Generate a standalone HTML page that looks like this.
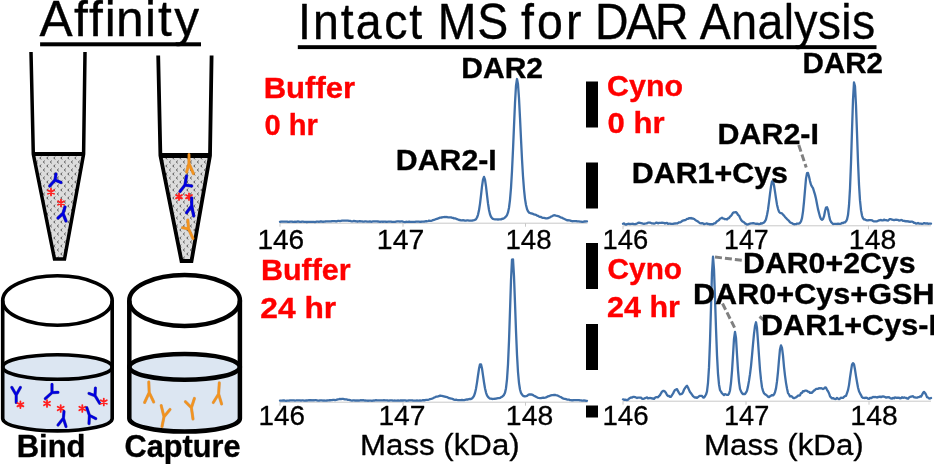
<!DOCTYPE html>
<html><head><meta charset="utf-8"><title>Intact MS for DAR Analysis</title>
<style>html,body{margin:0;padding:0;background:#fff}svg{display:block;filter:blur(0.35px)}</style></head>
<body>
<svg width="934" height="464" viewBox="0 0 934 464" font-family="'Liberation Sans', Arial, sans-serif">
<defs>
<pattern id="dots" width="7" height="8" patternUnits="userSpaceOnUse"><rect width="7" height="8" fill="#dcdcdc"/><path d="M2.8,0.7 L1.2,2 L2.8,3.3 M6.3,4.7 L4.7,6 L6.3,7.3" stroke="#505050" stroke-width="0.95" fill="none"/></pattern>
<g id="star" stroke="#ff2020" stroke-width="1.8" stroke-linecap="round"><path d="M0,-3.4V3.4M-3,-1.7L3,1.7M-3,1.7L3,-1.7"/></g>
</defs>
<rect width="934" height="464" fill="#fff"/>
<rect x="40.1" y="42.3" width="160.9" height="4" fill="#000"/>
<rect x="297.8" y="45.2" width="578.7" height="3.9" fill="#000"/>
<path d="M33.3,154.0 L83.6,154.0 L64.5,259 L54.5,259 Z" fill="url(#dots)"/>
<path d="M31,52 L33.3,154.0 L54.5,259 L64.5,259 L83.6,154.0 L85,52" fill="none" stroke="#000" stroke-width="3.5" stroke-linejoin="miter"/>
<path d="M33.3,154.0 L83.6,154.0" stroke="#000" stroke-width="4.0"/>
<path d="M160.4,155.5 L210,155.5 L191.5,261 L181.5,261 Z" fill="url(#dots)"/>
<path d="M158.2,55.5 L160.4,155.5 L181.5,261 L191.5,261 L210,155.5 L211.6,55.5" fill="none" stroke="#000" stroke-width="3.8" stroke-linejoin="miter"/>
<path d="M160.4,155.5 L210,155.5" stroke="#000" stroke-width="5.1"/>
<path d="M56,174 L55,180 L61,182.5 M55,180 L49.7,186" stroke="#00006a" stroke-width="3.4" fill="none" stroke-linecap="round" stroke-linejoin="round" opacity="0.55"/><path d="M56,174 L55,180 L61,182.5 M55,180 L49.7,186" stroke="#0000e0" stroke-width="2.6" fill="none" stroke-linecap="round" stroke-linejoin="round"/>
<use href="#star" x="51" y="192"/><use href="#star" x="61" y="203"/>
<path d="M58,218 L63,213.5 L66,221 M63,213.5 L65,207" stroke="#00006a" stroke-width="3.4" fill="none" stroke-linecap="round" stroke-linejoin="round" opacity="0.55"/><path d="M58,218 L63,213.5 L66,221 M63,213.5 L65,207" stroke="#0000e0" stroke-width="2.6" fill="none" stroke-linecap="round" stroke-linejoin="round"/>
<path d="M186.6,172 L189,163.5 L193.4,173.6 M189,163.5 L189,154.5" stroke="#c8741a" stroke-width="3.2" fill="none" stroke-linecap="round" stroke-linejoin="round" opacity="0.55"/><path d="M186.6,172 L189,163.5 L193.4,173.6 M189,163.5 L189,154.5" stroke="#f2931f" stroke-width="2.4000000000000004" fill="none" stroke-linecap="round" stroke-linejoin="round"/>
<path d="M186.5,176 L185,185 L191.7,186 M185,185 L180,191.5" stroke="#00006a" stroke-width="3.4" fill="none" stroke-linecap="round" stroke-linejoin="round" opacity="0.55"/><path d="M186.5,176 L185,185 L191.7,186 M185,185 L180,191.5" stroke="#0000e0" stroke-width="2.6" fill="none" stroke-linecap="round" stroke-linejoin="round"/>
<use href="#star" x="179" y="196.7"/><use href="#star" x="189" y="196.7"/>
<path d="M186.5,212.7 L191.7,205.7 L193.7,216 M191.7,205.7 L191.7,198" stroke="#00006a" stroke-width="3.4" fill="none" stroke-linecap="round" stroke-linejoin="round" opacity="0.55"/><path d="M186.5,212.7 L191.7,205.7 L193.7,216 M191.7,205.7 L191.7,198" stroke="#0000e0" stroke-width="2.6" fill="none" stroke-linecap="round" stroke-linejoin="round"/>
<path d="M187.8,220 L188.6,229 L182.6,227.7 M188.6,229 L193,238.5" stroke="#c8741a" stroke-width="3.2" fill="none" stroke-linecap="round" stroke-linejoin="round" opacity="0.55"/><path d="M187.8,220 L188.6,229 L182.6,227.7 M188.6,229 L193,238.5" stroke="#f2931f" stroke-width="2.4000000000000004" fill="none" stroke-linecap="round" stroke-linejoin="round"/>
<path d="M2.700000000000003,367 L2.700000000000003,418.4 A54.75,12.5 0 0 0 112.2,418.4 L112.2,367 A54.75,12.3 0 0 0 2.700000000000003,367 Z" fill="#dce6f2"/>
<ellipse cx="57.45" cy="367" rx="54.75" ry="12.3" fill="#dce6f2" stroke="#000" stroke-width="3.6"/>
<ellipse cx="57.45" cy="300.5" rx="54.75" ry="24.7" fill="none" stroke="#000" stroke-width="3.6"/>
<path d="M2.700000000000003,300.5 L2.700000000000003,418.4 A54.75,12.5 0 0 0 112.2,418.4 L112.2,300.5" fill="none" stroke="#000" stroke-width="3.6"/>
<path d="M129.3,366.9 L129.3,418.6 A55.3,13 0 0 0 239.89999999999998,418.6 L239.89999999999998,366.9 A55.3,12.8 0 0 0 129.3,366.9 Z" fill="#dce6f2"/>
<ellipse cx="184.6" cy="366.9" rx="55.3" ry="12.8" fill="#dce6f2" stroke="#000" stroke-width="4.5"/>
<ellipse cx="184.6" cy="300.5" rx="55.3" ry="25.4" fill="none" stroke="#000" stroke-width="4.5"/>
<path d="M129.3,300.5 L129.3,418.6 A55.3,13 0 0 0 239.89999999999998,418.6 L239.89999999999998,300.5" fill="none" stroke="#000" stroke-width="4.5"/>
<path d="M11.8,387.4 L16.2,395 L20.4,387.4 M16.2,395 L16.2,402.5" stroke="#00006a" stroke-width="3.2" fill="none" stroke-linecap="round" stroke-linejoin="round" opacity="0.55"/><path d="M11.8,387.4 L16.2,395 L20.4,387.4 M16.2,395 L16.2,402.5" stroke="#0000e0" stroke-width="2.4000000000000004" fill="none" stroke-linecap="round" stroke-linejoin="round"/>
<use href="#star" x="20.4" y="404.7"/>
<path d="M52,384.3 L52,392.6 L58,392.3 M52,392.6 L45.3,398.7" stroke="#00006a" stroke-width="3.2" fill="none" stroke-linecap="round" stroke-linejoin="round" opacity="0.55"/><path d="M52,384.3 L52,392.6 L58,392.3 M52,392.6 L45.3,398.7" stroke="#0000e0" stroke-width="2.4000000000000004" fill="none" stroke-linecap="round" stroke-linejoin="round"/>
<use href="#star" x="47" y="403.5"/>
<use href="#star" x="60.7" y="408.5"/>
<path d="M58,425 L63.4,418.3 L66,426.6 M63.4,418.3 L64,411.5" stroke="#00006a" stroke-width="3.2" fill="none" stroke-linecap="round" stroke-linejoin="round" opacity="0.55"/><path d="M58,425 L63.4,418.3 L66,426.6 M63.4,418.3 L64,411.5" stroke="#0000e0" stroke-width="2.4000000000000004" fill="none" stroke-linecap="round" stroke-linejoin="round"/>
<use href="#star" x="82.3" y="408.5"/>
<path d="M89,423.6 L89.4,415.3 L95.8,418.6 M89.4,415.3 L86.8,407.7" stroke="#00006a" stroke-width="3.2" fill="none" stroke-linecap="round" stroke-linejoin="round" opacity="0.55"/><path d="M89,423.6 L89.4,415.3 L95.8,418.6 M89.4,415.3 L86.8,407.7" stroke="#0000e0" stroke-width="2.4000000000000004" fill="none" stroke-linecap="round" stroke-linejoin="round"/>
<path d="M89,393.4 L95,395.7 L95.4,388 M95,395.7 L99.6,403.2" stroke="#00006a" stroke-width="3.2" fill="none" stroke-linecap="round" stroke-linejoin="round" opacity="0.55"/><path d="M89,393.4 L95,395.7 L95.4,388 M95,395.7 L99.6,403.2" stroke="#0000e0" stroke-width="2.4000000000000004" fill="none" stroke-linecap="round" stroke-linejoin="round"/>
<use href="#star" x="103.8" y="402"/>
<path d="M144.6,402.5 L149.2,392.6 L153.7,402 M149.2,392.6 L148.8,382" stroke="#c8741a" stroke-width="3.1" fill="none" stroke-linecap="round" stroke-linejoin="round" opacity="0.55"/><path d="M144.6,402.5 L149.2,392.6 L153.7,402 M149.2,392.6 L148.8,382" stroke="#f2931f" stroke-width="2.3000000000000003" fill="none" stroke-linecap="round" stroke-linejoin="round"/>
<path d="M161.2,405.5 L164,416.8 L170,409.5 M164,416.8 L162,426.6" stroke="#c8741a" stroke-width="3.1" fill="none" stroke-linecap="round" stroke-linejoin="round" opacity="0.55"/><path d="M161.2,405.5 L164,416.8 L170,409.5 M164,416.8 L162,426.6" stroke="#f2931f" stroke-width="2.3000000000000003" fill="none" stroke-linecap="round" stroke-linejoin="round"/>
<path d="M185.4,401.7 L191.4,407.7 L194.4,398.4 M191.4,407.7 L193,419" stroke="#c8741a" stroke-width="3.1" fill="none" stroke-linecap="round" stroke-linejoin="round" opacity="0.55"/><path d="M185.4,401.7 L191.4,407.7 L194.4,398.4 M191.4,407.7 L193,419" stroke="#f2931f" stroke-width="2.3000000000000003" fill="none" stroke-linecap="round" stroke-linejoin="round"/>
<path d="M213.3,402.5 L218.6,394 L221.6,404 M218.6,394 L219.3,382.8" stroke="#c8741a" stroke-width="3.1" fill="none" stroke-linecap="round" stroke-linejoin="round" opacity="0.55"/><path d="M213.3,402.5 L218.6,394 L221.6,404 M218.6,394 L219.3,382.8" stroke="#f2931f" stroke-width="2.3000000000000003" fill="none" stroke-linecap="round" stroke-linejoin="round"/>
<rect x="586" y="81.5" width="12" height="46.0" fill="#000"/>
<rect x="586" y="162.5" width="12" height="46.0" fill="#000"/>
<rect x="586" y="243" width="12" height="46" fill="#000"/>
<rect x="586" y="324" width="12" height="46" fill="#000"/>
<rect x="586" y="405.5" width="12" height="12.0" fill="#000"/>
<path d="M280,223.2 L587.5,223.2 M280,223.2 L280,226.7 M403,223.2 L403,226.7 M525.5,223.2 L525.5,226.7" stroke="#c8c8c8" stroke-width="1" fill="none"/>
<path d="M623,225.8 L931,225.8 M623,225.8 L623,229.3 M746,225.8 L746,229.3 M868.5,225.8 L868.5,229.3" stroke="#c8c8c8" stroke-width="1" fill="none"/>
<path d="M280,402.2 L587.5,402.2 M280,402.2 L280,405.7 M403,402.2 L403,405.7 M525.5,402.2 L525.5,405.7" stroke="#c8c8c8" stroke-width="1" fill="none"/>
<path d="M623,401.2 L931,401.2 M623,401.2 L623,404.7 M746,401.2 L746,404.7 M869,401.2 L869,404.7" stroke="#c8c8c8" stroke-width="1" fill="none"/>
<path d="M280.0,221.86 L281.0,221.63 L282.0,221.52 L283.0,221.71 L284.0,221.70 L285.0,221.72 L286.0,221.63 L287.0,221.52 L288.0,221.78 L289.0,221.97 L290.0,221.69 L291.0,221.72 L292.0,221.58 L293.0,221.86 L294.0,221.82 L295.0,221.66 L296.0,221.80 L297.0,221.54 L298.0,221.40 L299.0,221.74 L300.0,221.95 L301.0,221.82 L302.0,221.56 L303.0,221.66 L304.0,221.81 L305.0,221.80 L306.0,221.98 L307.0,221.99 L308.0,221.90 L309.0,221.81 L310.0,221.89 L311.0,221.94 L312.0,221.97 L313.0,221.87 L314.0,221.90 L315.0,222.04 L316.0,221.73 L317.0,221.68 L318.0,221.61 L319.0,221.79 L320.0,221.50 L321.0,221.39 L322.0,221.68 L323.0,221.75 L324.0,221.60 L325.0,221.50 L326.0,221.33 L327.0,221.46 L328.0,221.33 L329.0,221.32 L330.0,221.46 L331.0,221.40 L332.0,221.19 L333.0,221.05 L334.0,221.11 L335.0,221.07 L336.0,221.28 L337.0,221.27 L338.0,220.97 L339.0,220.95 L340.0,221.03 L341.0,220.87 L342.0,220.69 L343.0,220.59 L344.0,220.67 L345.0,220.70 L346.0,220.69 L347.0,220.58 L348.0,220.65 L349.0,220.79 L350.0,220.85 L351.0,221.15 L352.0,221.35 L353.0,221.18 L354.0,220.98 L355.0,221.07 L356.0,221.25 L357.0,221.48 L358.0,221.48 L359.0,221.27 L360.0,221.26 L361.0,221.37 L362.0,221.29 L363.0,221.55 L364.0,221.58 L365.0,221.39 L366.0,221.46 L367.0,221.56 L368.0,221.71 L369.0,221.67 L370.0,221.44 L371.0,221.77 L372.0,221.59 L373.0,221.46 L374.0,221.36 L375.0,221.36 L376.0,221.33 L377.0,221.45 L378.0,221.51 L379.0,221.60 L380.0,221.84 L381.0,221.59 L382.0,221.58 L383.0,221.75 L384.0,221.71 L385.0,221.70 L386.0,221.75 L387.0,221.78 L388.0,221.71 L389.0,221.63 L390.0,221.58 L391.0,221.63 L392.0,221.86 L393.0,221.91 L394.0,221.96 L395.0,221.79 L396.0,221.56 L397.0,221.45 L398.0,221.38 L399.0,221.33 L400.0,221.57 L401.0,221.43 L402.0,221.43 L403.0,221.71 L404.0,221.91 L405.0,222.03 L406.0,221.75 L407.0,221.82 L408.0,221.93 L409.0,221.75 L410.0,221.77 L411.0,221.92 L412.0,221.96 L413.0,221.81 L414.0,221.89 L415.0,221.88 L416.0,221.66 L417.0,221.65 L418.0,221.70 L419.0,221.65 L420.0,221.82 L421.0,221.73 L422.0,221.65 L423.0,221.68 L424.0,221.71 L425.0,221.31 L426.0,221.21 L427.0,221.25 L428.0,221.01 L429.0,220.70 L430.0,220.80 L431.0,220.78 L432.0,220.59 L433.0,220.10 L434.0,219.95 L435.0,219.47 L436.0,219.07 L437.0,218.76 L438.0,218.62 L439.0,218.05 L440.0,217.69 L441.0,217.52 L442.0,217.49 L443.0,217.22 L444.0,217.14 L445.0,217.01 L446.0,217.07 L447.0,217.00 L448.0,217.29 L449.0,217.43 L450.0,217.29 L451.0,217.36 L452.0,217.79 L453.0,217.90 L454.0,218.35 L455.0,218.44 L456.0,218.70 L457.0,219.12 L458.0,219.55 L459.0,220.01 L460.0,219.94 L461.0,220.37 L462.0,220.30 L463.0,220.22 L464.0,220.40 L465.0,220.71 L466.0,220.57 L467.0,220.43 L468.0,220.47 L469.0,220.56 L470.0,220.64 L471.0,220.66 L472.0,220.68 L473.0,220.37 L474.0,220.15 L475.0,219.86 L476.0,219.18 L477.0,217.48 L478.0,214.83 L479.0,210.31 L480.0,203.84 L481.0,195.34 L482.0,186.40 L483.0,179.60 L484.0,176.88 L485.0,179.65 L486.0,186.41 L487.0,195.05 L488.0,203.41 L489.0,210.01 L490.0,214.27 L491.0,216.75 L492.0,218.04 L493.0,218.95 L494.0,219.15 L495.0,219.32 L496.0,219.47 L497.0,219.29 L498.0,219.50 L499.0,219.33 L500.0,219.46 L501.0,219.39 L502.0,218.88 L503.0,218.74 L504.0,218.16 L505.0,217.55 L506.0,216.48 L507.0,215.05 L508.0,212.41 L509.0,207.76 L510.0,199.77 L511.0,187.88 L512.0,171.03 L513.0,149.78 L514.0,126.17 L515.0,102.93 L516.0,85.59 L517.0,79.03 L518.0,84.31 L519.0,98.24 L520.0,117.77 L521.0,139.02 L522.0,159.29 L523.0,176.27 L524.0,189.32 L525.0,198.83 L526.0,205.00 L527.0,208.97 L528.0,211.34 L529.0,212.58 L530.0,212.97 L531.0,213.37 L532.0,213.51 L533.0,213.93 L534.0,214.40 L535.0,214.58 L536.0,214.82 L537.0,215.52 L538.0,215.79 L539.0,216.40 L540.0,216.91 L541.0,217.01 L542.0,217.60 L543.0,217.95 L544.0,217.87 L545.0,218.11 L546.0,218.35 L547.0,218.37 L548.0,218.19 L549.0,217.65 L550.0,217.41 L551.0,216.66 L552.0,216.28 L553.0,215.64 L554.0,215.25 L555.0,215.37 L556.0,215.60 L557.0,215.77 L558.0,216.21 L559.0,216.41 L560.0,217.02 L561.0,217.62 L562.0,217.73 L563.0,218.33 L564.0,218.73 L565.0,219.21 L566.0,219.70 L567.0,220.24 L568.0,220.26 L569.0,220.32 L570.0,220.41 L571.0,220.93 L572.0,221.22 L573.0,221.23 L574.0,221.08 L575.0,221.21 L576.0,221.22 L577.0,221.25 L578.0,221.47 L579.0,221.46 L580.0,221.58 L581.0,221.68 L582.0,221.82 L583.0,221.81 L584.0,221.47 L585.0,221.52 L586.0,221.46 L587.0,221.43" fill="none" stroke="#3f6fa8" stroke-width="2.3" stroke-linejoin="round" stroke-linecap="round"/>
<path d="M623.0,223.74 L624.0,223.43 L625.0,224.24 L626.0,224.68 L627.0,224.09 L628.0,223.84 L629.0,223.74 L630.0,224.07 L631.0,223.91 L632.0,223.80 L633.0,223.73 L634.0,224.13 L635.0,224.03 L636.0,223.98 L637.0,223.55 L638.0,222.95 L639.0,222.60 L640.0,222.81 L641.0,223.01 L642.0,223.29 L643.0,223.69 L644.0,223.91 L645.0,223.53 L646.0,223.44 L647.0,223.31 L648.0,222.65 L649.0,222.67 L650.0,222.64 L651.0,223.00 L652.0,223.47 L653.0,223.44 L654.0,223.66 L655.0,223.41 L656.0,222.74 L657.0,222.74 L658.0,223.33 L659.0,222.92 L660.0,222.82 L661.0,222.87 L662.0,222.74 L663.0,222.86 L664.0,222.93 L665.0,223.48 L666.0,223.14 L667.0,222.97 L668.0,223.78 L669.0,223.62 L670.0,223.57 L671.0,223.83 L672.0,223.90 L673.0,223.97 L674.0,223.49 L675.0,223.63 L676.0,223.27 L677.0,223.49 L678.0,222.90 L679.0,222.37 L680.0,222.35 L681.0,221.99 L682.0,221.13 L683.0,220.58 L684.0,220.26 L685.0,220.12 L686.0,219.72 L687.0,218.90 L688.0,218.93 L689.0,218.09 L690.0,218.38 L691.0,217.96 L692.0,218.57 L693.0,218.45 L694.0,218.92 L695.0,219.70 L696.0,220.41 L697.0,220.93 L698.0,221.52 L699.0,222.36 L700.0,223.12 L701.0,223.34 L702.0,223.08 L703.0,223.33 L704.0,224.13 L705.0,223.79 L706.0,223.71 L707.0,223.46 L708.0,224.11 L709.0,223.87 L710.0,224.47 L711.0,224.12 L712.0,224.24 L713.0,224.23 L714.0,223.29 L715.0,223.30 L716.0,222.49 L717.0,221.21 L718.0,220.71 L719.0,220.08 L720.0,218.71 L721.0,218.30 L722.0,217.78 L723.0,218.43 L724.0,218.68 L725.0,219.23 L726.0,219.06 L727.0,219.47 L728.0,218.38 L729.0,218.21 L730.0,216.66 L731.0,215.85 L732.0,214.53 L733.0,212.75 L734.0,212.33 L735.0,212.25 L736.0,212.12 L737.0,213.07 L738.0,214.81 L739.0,215.59 L740.0,217.72 L741.0,219.71 L742.0,221.01 L743.0,221.79 L744.0,222.31 L745.0,223.42 L746.0,223.87 L747.0,224.50 L748.0,224.41 L749.0,223.98 L750.0,223.74 L751.0,223.40 L752.0,223.35 L753.0,223.18 L754.0,223.24 L755.0,223.52 L756.0,223.94 L757.0,223.68 L758.0,223.88 L759.0,224.21 L760.0,223.97 L761.0,223.27 L762.0,223.58 L763.0,223.03 L764.0,222.50 L765.0,221.21 L766.0,219.37 L767.0,214.96 L768.0,209.72 L769.0,202.14 L770.0,193.83 L771.0,186.58 L772.0,181.39 L773.0,181.34 L774.0,185.25 L775.0,191.57 L776.0,198.42 L777.0,204.68 L778.0,208.83 L779.0,211.70 L780.0,212.74 L781.0,213.22 L782.0,213.43 L783.0,214.64 L784.0,215.58 L785.0,216.94 L786.0,217.98 L787.0,219.11 L788.0,220.01 L789.0,220.95 L790.0,222.19 L791.0,222.83 L792.0,223.13 L793.0,223.88 L794.0,224.27 L795.0,224.04 L796.0,224.19 L797.0,223.53 L798.0,223.57 L799.0,223.53 L800.0,222.93 L801.0,221.37 L802.0,218.06 L803.0,211.56 L804.0,201.88 L805.0,190.08 L806.0,178.67 L807.0,173.11 L808.0,173.00 L809.0,176.56 L810.0,181.11 L811.0,184.69 L812.0,186.62 L813.0,188.16 L814.0,191.28 L815.0,194.61 L816.0,198.74 L817.0,203.91 L818.0,209.13 L819.0,212.97 L820.0,216.70 L821.0,219.12 L822.0,219.74 L823.0,219.05 L824.0,216.45 L825.0,211.29 L826.0,207.58 L827.0,207.26 L828.0,209.81 L829.0,215.20 L830.0,219.72 L831.0,221.89 L832.0,222.94 L833.0,223.98 L834.0,223.95 L835.0,223.91 L836.0,223.78 L837.0,223.98 L838.0,223.64 L839.0,223.97 L840.0,223.88 L841.0,223.66 L842.0,222.81 L843.0,223.16 L844.0,222.45 L845.0,222.38 L846.0,221.33 L847.0,219.51 L848.0,215.10 L849.0,205.48 L850.0,188.65 L851.0,162.88 L852.0,130.49 L853.0,99.94 L854.0,82.43 L855.0,86.38 L856.0,105.47 L857.0,133.04 L858.0,161.71 L859.0,184.51 L860.0,200.41 L861.0,210.15 L862.0,215.58 L863.0,218.32 L864.0,219.43 L865.0,219.52 L866.0,220.13 L867.0,220.26 L868.0,220.47 L869.0,220.16 L870.0,220.22 L871.0,220.17 L872.0,220.27 L873.0,220.93 L874.0,221.37 L875.0,221.30 L876.0,221.46 L877.0,221.30 L878.0,220.87 L879.0,220.28 L880.0,220.24 L881.0,219.90 L882.0,220.45 L883.0,220.43 L884.0,219.66 L885.0,220.12 L886.0,220.05 L887.0,220.38 L888.0,220.53 L889.0,219.71 L890.0,219.10 L891.0,219.13 L892.0,219.73 L893.0,219.93 L894.0,220.14 L895.0,219.82 L896.0,219.65 L897.0,219.87 L898.0,219.96 L899.0,220.53 L900.0,220.46 L901.0,220.02 L902.0,220.05 L903.0,220.88 L904.0,220.98 L905.0,220.89 L906.0,221.43 L907.0,221.11 L908.0,221.48 L909.0,221.50 L910.0,221.92 L911.0,221.58 L912.0,221.68 L913.0,222.03 L914.0,222.78 L915.0,222.96 L916.0,223.57 L917.0,223.36 L918.0,222.95 L919.0,223.53 L920.0,223.54 L921.0,223.62 L922.0,223.78 L923.0,223.56 L924.0,223.20 L925.0,223.26 L926.0,223.58 L927.0,223.24 L928.0,223.76 L929.0,223.61 L930.0,223.64 L931.0,223.54" fill="none" stroke="#3f6fa8" stroke-width="2.3" stroke-linejoin="round" stroke-linecap="round"/>
<path d="M280.0,400.62 L281.0,400.54 L282.0,400.58 L283.0,400.50 L284.0,400.43 L285.0,400.66 L286.0,400.83 L287.0,400.53 L288.0,400.63 L289.0,400.70 L290.0,400.38 L291.0,400.44 L292.0,400.30 L293.0,400.38 L294.0,400.36 L295.0,400.58 L296.0,400.48 L297.0,400.31 L298.0,400.37 L299.0,400.30 L300.0,400.29 L301.0,400.58 L302.0,400.42 L303.0,400.40 L304.0,400.53 L305.0,400.74 L306.0,400.46 L307.0,400.49 L308.0,400.38 L309.0,400.24 L310.0,400.24 L311.0,400.13 L312.0,400.33 L313.0,400.25 L314.0,400.37 L315.0,400.21 L316.0,400.14 L317.0,400.47 L318.0,400.65 L319.0,400.72 L320.0,400.40 L321.0,400.47 L322.0,400.41 L323.0,400.54 L324.0,400.51 L325.0,400.56 L326.0,400.60 L327.0,400.51 L328.0,400.46 L329.0,400.27 L330.0,400.26 L331.0,400.13 L332.0,400.06 L333.0,399.93 L334.0,399.97 L335.0,400.17 L336.0,399.88 L337.0,399.55 L338.0,399.28 L339.0,399.18 L340.0,398.98 L341.0,399.06 L342.0,398.82 L343.0,398.85 L344.0,399.10 L345.0,399.47 L346.0,399.42 L347.0,399.43 L348.0,399.94 L349.0,399.96 L350.0,400.19 L351.0,400.47 L352.0,400.58 L353.0,400.41 L354.0,400.27 L355.0,400.57 L356.0,400.48 L357.0,400.70 L358.0,400.50 L359.0,400.57 L360.0,400.35 L361.0,400.17 L362.0,400.29 L363.0,400.12 L364.0,400.35 L365.0,400.61 L366.0,400.50 L367.0,400.72 L368.0,400.76 L369.0,400.69 L370.0,400.55 L371.0,400.68 L372.0,400.82 L373.0,400.50 L374.0,400.58 L375.0,400.31 L376.0,400.19 L377.0,400.36 L378.0,400.42 L379.0,400.43 L380.0,400.37 L381.0,400.36 L382.0,400.38 L383.0,400.35 L384.0,400.19 L385.0,400.29 L386.0,400.39 L387.0,400.32 L388.0,400.50 L389.0,400.58 L390.0,400.30 L391.0,400.35 L392.0,400.37 L393.0,400.64 L394.0,400.61 L395.0,400.51 L396.0,400.72 L397.0,400.56 L398.0,400.45 L399.0,400.66 L400.0,400.52 L401.0,400.51 L402.0,400.40 L403.0,400.49 L404.0,400.37 L405.0,400.29 L406.0,400.58 L407.0,400.74 L408.0,400.53 L409.0,400.27 L410.0,400.46 L411.0,400.47 L412.0,400.41 L413.0,400.51 L414.0,400.54 L415.0,400.58 L416.0,400.58 L417.0,400.46 L418.0,400.53 L419.0,400.53 L420.0,400.32 L421.0,400.54 L422.0,400.39 L423.0,400.19 L424.0,400.23 L425.0,400.25 L426.0,399.91 L427.0,399.90 L428.0,399.81 L429.0,399.52 L430.0,399.09 L431.0,398.96 L432.0,398.62 L433.0,398.25 L434.0,397.62 L435.0,397.27 L436.0,396.72 L437.0,396.61 L438.0,396.38 L439.0,396.04 L440.0,395.72 L441.0,395.76 L442.0,395.97 L443.0,396.25 L444.0,396.35 L445.0,396.73 L446.0,396.82 L447.0,397.03 L448.0,397.62 L449.0,398.09 L450.0,398.25 L451.0,398.54 L452.0,398.74 L453.0,399.16 L454.0,399.58 L455.0,399.80 L456.0,399.72 L457.0,399.94 L458.0,400.05 L459.0,400.09 L460.0,400.10 L461.0,400.11 L462.0,399.86 L463.0,400.05 L464.0,400.22 L465.0,399.85 L466.0,399.62 L467.0,399.39 L468.0,399.48 L469.0,399.21 L470.0,398.96 L471.0,398.99 L472.0,398.43 L473.0,397.44 L474.0,395.79 L475.0,392.99 L476.0,388.66 L477.0,382.60 L478.0,375.52 L479.0,368.86 L480.0,364.36 L481.0,364.38 L482.0,368.44 L483.0,375.42 L484.0,382.27 L485.0,388.29 L486.0,392.58 L487.0,395.33 L488.0,396.90 L489.0,397.86 L490.0,398.61 L491.0,398.65 L492.0,398.92 L493.0,398.99 L494.0,398.82 L495.0,398.74 L496.0,398.69 L497.0,398.32 L498.0,398.16 L499.0,398.07 L500.0,397.90 L501.0,397.29 L502.0,396.82 L503.0,395.95 L504.0,394.86 L505.0,392.74 L506.0,388.17 L507.0,379.33 L508.0,364.37 L509.0,341.03 L510.0,311.03 L511.0,280.32 L512.0,259.52 L513.0,259.32 L514.0,276.41 L515.0,302.91 L516.0,331.03 L517.0,354.71 L518.0,372.01 L519.0,383.03 L520.0,389.50 L521.0,392.96 L522.0,394.60 L523.0,395.75 L524.0,396.26 L525.0,396.35 L526.0,396.18 L527.0,395.87 L528.0,395.04 L529.0,394.47 L530.0,394.48 L531.0,394.40 L532.0,394.66 L533.0,395.11 L534.0,395.68 L535.0,396.16 L536.0,396.70 L537.0,397.27 L538.0,397.77 L539.0,398.00 L540.0,398.21 L541.0,398.07 L542.0,397.83 L543.0,397.76 L544.0,397.77 L545.0,397.62 L546.0,397.32 L547.0,396.89 L548.0,396.41 L549.0,396.17 L550.0,395.69 L551.0,395.38 L552.0,395.21 L553.0,395.10 L554.0,395.00 L555.0,394.92 L556.0,395.13 L557.0,395.30 L558.0,395.72 L559.0,396.30 L560.0,396.74 L561.0,397.15 L562.0,397.90 L563.0,398.36 L564.0,398.79 L565.0,398.94 L566.0,399.10 L567.0,399.53 L568.0,399.59 L569.0,399.71 L570.0,400.05 L571.0,400.18 L572.0,400.42 L573.0,400.25 L574.0,400.22 L575.0,400.09 L576.0,400.06 L577.0,400.11 L578.0,400.10 L579.0,400.18 L580.0,400.46 L581.0,400.39 L582.0,400.63 L583.0,400.70 L584.0,400.45 L585.0,400.65 L586.0,400.75 L587.0,400.80" fill="none" stroke="#3f6fa8" stroke-width="2.3" stroke-linejoin="round" stroke-linecap="round"/>
<path d="M623.0,399.33 L624.0,399.80 L625.0,399.60 L626.0,399.87 L627.0,400.16 L628.0,399.77 L629.0,398.63 L630.0,397.99 L631.0,397.42 L632.0,397.64 L633.0,396.98 L634.0,396.86 L635.0,397.05 L636.0,397.57 L637.0,398.08 L638.0,397.54 L639.0,397.53 L640.0,397.59 L641.0,397.61 L642.0,398.55 L643.0,398.90 L644.0,398.57 L645.0,398.19 L646.0,397.74 L647.0,397.41 L648.0,398.46 L649.0,398.24 L650.0,397.97 L651.0,398.05 L652.0,398.60 L653.0,398.42 L654.0,398.89 L655.0,397.78 L656.0,397.17 L657.0,397.18 L658.0,397.35 L659.0,396.04 L660.0,395.13 L661.0,393.31 L662.0,391.61 L663.0,390.91 L664.0,391.00 L665.0,391.54 L666.0,393.00 L667.0,394.91 L668.0,396.09 L669.0,395.93 L670.0,396.79 L671.0,396.78 L672.0,395.08 L673.0,393.67 L674.0,391.54 L675.0,389.96 L676.0,389.52 L677.0,389.10 L678.0,391.19 L679.0,392.85 L680.0,394.36 L681.0,394.15 L682.0,393.75 L683.0,392.29 L684.0,389.74 L685.0,388.18 L686.0,386.72 L687.0,385.80 L688.0,387.56 L689.0,389.88 L690.0,392.08 L691.0,393.29 L692.0,394.63 L693.0,396.16 L694.0,396.90 L695.0,397.51 L696.0,397.36 L697.0,397.87 L698.0,397.10 L699.0,396.32 L700.0,395.80 L701.0,395.95 L702.0,395.81 L703.0,397.30 L704.0,397.66 L705.0,396.29 L706.0,394.55 L707.0,391.34 L708.0,382.80 L709.0,367.40 L710.0,341.17 L711.0,306.71 L712.0,272.54 L713.0,256.70 L714.0,269.26 L715.0,297.83 L716.0,328.53 L717.0,355.10 L718.0,373.67 L719.0,384.47 L720.0,389.96 L721.0,391.73 L722.0,393.25 L723.0,394.22 L724.0,395.12 L725.0,394.23 L726.0,394.51 L727.0,394.84 L728.0,394.84 L729.0,393.78 L730.0,390.47 L731.0,382.74 L732.0,371.18 L733.0,355.33 L734.0,338.93 L735.0,331.92 L736.0,337.86 L737.0,354.46 L738.0,370.44 L739.0,381.80 L740.0,388.94 L741.0,391.44 L742.0,393.10 L743.0,394.06 L744.0,394.00 L745.0,394.06 L746.0,392.63 L747.0,390.68 L748.0,386.38 L749.0,380.89 L750.0,374.15 L751.0,366.04 L752.0,355.56 L753.0,344.30 L754.0,333.83 L755.0,326.13 L756.0,322.26 L757.0,328.05 L758.0,341.45 L759.0,355.79 L760.0,369.75 L761.0,379.70 L762.0,387.25 L763.0,390.90 L764.0,393.23 L765.0,394.24 L766.0,394.84 L767.0,395.58 L768.0,396.66 L769.0,397.10 L770.0,396.28 L771.0,395.66 L772.0,395.10 L773.0,395.41 L774.0,394.41 L775.0,392.17 L776.0,388.38 L777.0,381.43 L778.0,371.85 L779.0,359.93 L780.0,349.23 L781.0,345.41 L782.0,347.96 L783.0,355.61 L784.0,366.78 L785.0,375.57 L786.0,382.84 L787.0,388.49 L788.0,393.08 L789.0,394.42 L790.0,396.37 L791.0,396.15 L792.0,396.50 L793.0,397.68 L794.0,398.21 L795.0,397.72 L796.0,397.39 L797.0,396.65 L798.0,395.54 L799.0,395.51 L800.0,395.26 L801.0,393.10 L802.0,392.84 L803.0,391.11 L804.0,391.34 L805.0,390.64 L806.0,390.64 L807.0,390.84 L808.0,391.72 L809.0,391.83 L810.0,392.93 L811.0,392.67 L812.0,392.79 L813.0,391.58 L814.0,390.57 L815.0,389.92 L816.0,388.96 L817.0,388.87 L818.0,388.78 L819.0,388.10 L820.0,388.30 L821.0,388.17 L822.0,388.51 L823.0,389.08 L824.0,388.54 L825.0,387.40 L826.0,387.66 L827.0,389.85 L828.0,391.26 L829.0,393.25 L830.0,396.22 L831.0,397.42 L832.0,398.32 L833.0,398.09 L834.0,398.63 L835.0,399.02 L836.0,398.82 L837.0,397.91 L838.0,398.73 L839.0,399.17 L840.0,398.58 L841.0,397.75 L842.0,397.78 L843.0,397.80 L844.0,396.92 L845.0,396.09 L846.0,395.90 L847.0,393.03 L848.0,390.12 L849.0,385.10 L850.0,377.72 L851.0,370.87 L852.0,364.66 L853.0,363.13 L854.0,364.20 L855.0,369.55 L856.0,376.09 L857.0,381.99 L858.0,387.44 L859.0,391.28 L860.0,393.38 L861.0,395.05 L862.0,397.15 L863.0,397.88 L864.0,397.91 L865.0,398.01 L866.0,397.69 L867.0,397.86 L868.0,398.62 L869.0,398.78 L870.0,397.90 L871.0,398.14 L872.0,397.61 L873.0,396.91 L874.0,397.03 L875.0,397.00 L876.0,397.06 L877.0,397.54 L878.0,396.85 L879.0,397.12 L880.0,396.55 L881.0,397.17 L882.0,396.63 L883.0,396.43 L884.0,396.59 L885.0,396.97 L886.0,397.69 L887.0,397.13 L888.0,397.47 L889.0,397.21 L890.0,397.93 L891.0,398.46 L892.0,398.71 L893.0,397.81 L894.0,398.30 L895.0,397.44 L896.0,397.78 L897.0,397.66 L898.0,397.94 L899.0,397.66 L900.0,398.32 L901.0,398.20 L902.0,397.25 L903.0,397.86 L904.0,397.45 L905.0,397.70 L906.0,397.88 L907.0,398.42 L908.0,398.75 L909.0,397.46 L910.0,396.90 L911.0,396.63 L912.0,396.49 L913.0,396.21 L914.0,397.35 L915.0,397.41 L916.0,397.63 L917.0,397.69 L918.0,397.17 L919.0,397.09 L920.0,396.44 L921.0,396.69 L922.0,394.87 L923.0,392.91 L924.0,391.93 L925.0,392.94 L926.0,394.61 L927.0,397.07 L928.0,397.50 L929.0,398.39 L930.0,398.50 L931.0,398.05" fill="none" stroke="#3f6fa8" stroke-width="2.3" stroke-linejoin="round" stroke-linecap="round"/>
<path d="M798.75,145 L806.25,167.5" stroke="#808080" stroke-width="3" stroke-dasharray="7 3" fill="none"/>
<path d="M715,257 L743,260.5" stroke="#808080" stroke-width="3" stroke-dasharray="7 3" fill="none"/>
<path d="M722.5,303.5 L735,328.5" stroke="#808080" stroke-width="3" stroke-dasharray="7 3" fill="none"/>
<path d="M759.5,316.5 L765.5,321.5" stroke="#808080" stroke-width="3" stroke-dasharray="7 3" fill="none"/>
<text transform="translate(257.39,248.80) scale(0.9960,1)" font-size="28.20" stroke="#000000" stroke-width="0.3" stroke-linejoin="round" fill="#000000">146</text>
<text transform="translate(376.87,248.80) scale(1.0084,1)" font-size="28.20" stroke="#000000" stroke-width="0.3" stroke-linejoin="round" fill="#000000">147</text>
<text transform="translate(505.42,248.80) scale(0.9823,1)" font-size="28.20" stroke="#000000" stroke-width="0.3" stroke-linejoin="round" fill="#000000">148</text>
<text transform="translate(602.45,248.80) scale(0.9709,1)" font-size="28.20" stroke="#000000" stroke-width="0.3" stroke-linejoin="round" fill="#000000">146</text>
<text transform="translate(723.99,248.80) scale(0.9511,1)" font-size="28.20" stroke="#000000" stroke-width="0.3" stroke-linejoin="round" fill="#000000">147</text>
<text transform="translate(848.87,248.80) scale(1.0051,1)" font-size="28.20" stroke="#000000" stroke-width="0.3" stroke-linejoin="round" fill="#000000">148</text>
<text transform="translate(258.41,425.10) scale(0.9880,1)" font-size="28.20" stroke="#000000" stroke-width="0.3" stroke-linejoin="round" fill="#000000">146</text>
<text transform="translate(378.38,425.10) scale(1.0015,1)" font-size="28.20" stroke="#000000" stroke-width="0.3" stroke-linejoin="round" fill="#000000">147</text>
<text transform="translate(505.87,425.10) scale(1.0051,1)" font-size="28.20" stroke="#000000" stroke-width="0.3" stroke-linejoin="round" fill="#000000">148</text>
<text transform="translate(602.42,425.10) scale(0.9823,1)" font-size="28.20" stroke="#000000" stroke-width="0.3" stroke-linejoin="round" fill="#000000">146</text>
<text transform="translate(723.96,425.10) scale(0.9626,1)" font-size="28.20" stroke="#000000" stroke-width="0.3" stroke-linejoin="round" fill="#000000">147</text>
<text transform="translate(850.37,425.10) scale(1.0051,1)" font-size="28.20" stroke="#000000" stroke-width="0.3" stroke-linejoin="round" fill="#000000">148</text>
<text transform="translate(360.10,454.60) scale(1.0768,1)" font-size="29.00" stroke="#000000" stroke-width="0.3" stroke-linejoin="round" fill="#000000">Mass (kDa)</text>
<text transform="translate(704.10,454.60) scale(1.0768,1)" font-size="29.00" stroke="#000000" stroke-width="0.3" stroke-linejoin="round" fill="#000000">Mass (kDa)</text>
<text transform="translate(16.69,457.20) scale(0.9998,1)" font-size="31.00" font-weight="bold" stroke="#000000" stroke-width="0.35" stroke-linejoin="round" fill="#000000">Bind</text>
<text transform="translate(124.57,457.20) scale(0.9902,1)" font-size="31.00" font-weight="bold" stroke="#000000" stroke-width="0.35" stroke-linejoin="round" fill="#000000">Capture</text>
<text transform="translate(263.68,98.00) scale(1.0218,1)" font-size="30.40" font-weight="bold" stroke="#ff0000" stroke-width="0.35" stroke-linejoin="round" fill="#ff0000">Buffer</text>
<text transform="translate(264.48,134.80) scale(0.9584,1)" font-size="30.40" font-weight="bold" stroke="#ff0000" stroke-width="0.35" stroke-linejoin="round" fill="#ff0000">0 hr</text>
<text transform="translate(461.35,77.75) scale(0.9875,1)" font-size="30.40" font-weight="bold" stroke="#000000" stroke-width="0.35" stroke-linejoin="round" fill="#000000">DAR2</text>
<text transform="translate(395.83,170.40) scale(0.9954,1)" font-size="30.40" font-weight="bold" stroke="#000000" stroke-width="0.35" stroke-linejoin="round" fill="#000000">DAR2-I</text>
<text transform="translate(607.09,96.20) scale(0.9987,1)" font-size="30.40" font-weight="bold" stroke="#ff0000" stroke-width="0.35" stroke-linejoin="round" fill="#ff0000">Cyno</text>
<text transform="translate(607.51,132.75) scale(1.0229,1)" font-size="30.40" font-weight="bold" stroke="#ff0000" stroke-width="0.35" stroke-linejoin="round" fill="#ff0000">0 hr</text>
<text transform="translate(802.58,73.00) scale(0.9725,1)" font-size="30.40" font-weight="bold" stroke="#000000" stroke-width="0.35" stroke-linejoin="round" fill="#000000">DAR2</text>
<text transform="translate(717.52,143.50) scale(1.0005,1)" font-size="30.40" font-weight="bold" stroke="#000000" stroke-width="0.35" stroke-linejoin="round" fill="#000000">DAR2-I</text>
<text transform="translate(631.77,183.00) scale(1.0002,1)" font-size="30.40" font-weight="bold" stroke="#000000" stroke-width="0.35" stroke-linejoin="round" fill="#000000">DAR1+Cys</text>
<text transform="translate(260.92,280.30) scale(1.0034,1)" font-size="30.40" font-weight="bold" stroke="#ff0000" stroke-width="0.35" stroke-linejoin="round" fill="#ff0000">Buffer</text>
<text transform="translate(260.30,318.00) scale(1.0446,1)" font-size="30.40" font-weight="bold" stroke="#ff0000" stroke-width="0.35" stroke-linejoin="round" fill="#ff0000">24 hr</text>
<text transform="translate(607.56,279.00) scale(0.9804,1)" font-size="30.40" font-weight="bold" stroke="#ff0000" stroke-width="0.35" stroke-linejoin="round" fill="#ff0000">Cyno</text>
<text transform="translate(607.09,317.00) scale(1.0026,1)" font-size="30.40" font-weight="bold" stroke="#ff0000" stroke-width="0.35" stroke-linejoin="round" fill="#ff0000">24 hr</text>
<text transform="translate(743.03,272.50) scale(0.9963,1)" font-size="30.40" font-weight="bold" stroke="#000000" stroke-width="0.35" stroke-linejoin="round" fill="#000000">DAR0+2Cys</text>
<text transform="translate(693.01,304.00) scale(1.0068,1)" font-size="30.40" font-weight="bold" stroke="#000000" stroke-width="0.35" stroke-linejoin="round" fill="#000000">DAR0+Cys+GSH</text>
<text transform="translate(761.01,335.25) scale(1.0060,1)" font-size="30.40" font-weight="bold" stroke="#000000" stroke-width="0.35" stroke-linejoin="round" fill="#000000">DAR1+Cys-I</text>
<text x="39.50 73.94 88.99 104.73 115.88 144.88 157.99 174.27" y="36.4" font-size="49.7" stroke="#000" stroke-width="0.35" stroke-linejoin="round" fill="#000">Affinity</text>
<text transform="scale(0.94,1)" x="317.09 332.99 362.63 378.54 408.76 435.49 451.91 465.79 507.67 540.96 554.23 571.21 602.15 621.28 632.86 666.17 696.75 731.38 744.43 777.91 805.86 833.66 844.95 870.07 895.08 906.37" y="38.8" font-size="49.4" stroke="#000" stroke-width="0.35" stroke-linejoin="round" fill="#000">Intact MS for DAR Analysis</text>
</svg>
</body></html>
